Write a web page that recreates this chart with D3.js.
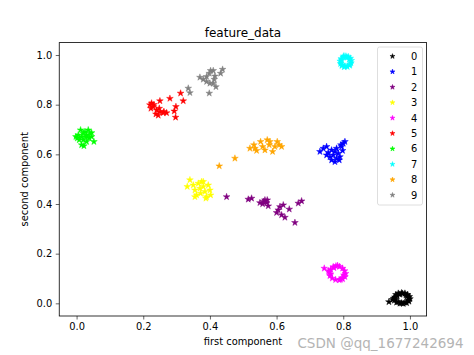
<!DOCTYPE html>
<html><head><meta charset="utf-8">
<script src="https://cdn.jsdelivr.net/npm/d3@7"></script>
<style>body{margin:0;background:#fff}svg{display:block}text{font-family:"DejaVu Sans",sans-serif}</style>
</head><body><svg id="c" width="474" height="355"></svg>
<script>
const labels = ["0","1","2","3","4","5","6","7","8","9"];
const colors = ["black","blue","purple","yellow","magenta","red","lime","cyan","orange","gray"];
const xTicks = [0.0,0.2,0.4,0.6,0.8,1.0];
const yTicks = [0.0,0.2,0.4,0.6,0.8,1.0];

const class0 = [[0.937,0.006],[0.955,0.025],[0.958,0.035],[0.965,0.040],[0.975,0.042],[0.985,0.040],[0.993,0.035],[0.998,0.027],[1.000,0.018],[0.997,0.008],[0.990,0.002],[0.980,-0.001],[0.970,0.000],[0.960,0.004],[0.953,0.012],[0.951,0.020],[0.962,0.030],[0.970,0.036],[0.988,0.033],[0.995,0.014],[0.985,0.004],[0.965,0.006],[0.956,0.016],[0.978,0.039],[0.996,0.022],[0.975,0.001],[0.948,0.015],[0.992,0.030]];
const class1 = [[0.730,0.611],[0.740,0.624],[0.750,0.631],[0.755,0.607],[0.760,0.590],[0.765,0.577],[0.770,0.597],[0.775,0.611],[0.780,0.624],[0.785,0.604],[0.790,0.590],[0.795,0.631],[0.800,0.644],[0.805,0.651],[0.798,0.615],[0.788,0.577],[0.775,0.570],[0.750,0.597],[0.765,0.617],[0.780,0.584],[0.793,0.638]];
const class2 = [[0.450,0.429],[0.515,0.419],[0.525,0.423],[0.550,0.405],[0.558,0.400],[0.565,0.416],[0.570,0.405],[0.575,0.392],[0.572,0.416],[0.560,0.410],[0.605,0.376],[0.610,0.389],[0.615,0.356],[0.620,0.396],[0.625,0.346],[0.600,0.365],[0.638,0.379],[0.665,0.403],[0.675,0.412],[0.655,0.325]];
const class3 = [[0.332,0.470],[0.340,0.497],[0.350,0.476],[0.355,0.456],[0.360,0.436],[0.365,0.483],[0.370,0.463],[0.375,0.490],[0.380,0.470],[0.385,0.450],[0.390,0.429],[0.395,0.476],[0.400,0.456],[0.402,0.436],[0.388,0.423],[0.355,0.429],[0.372,0.443],[0.380,0.490]];
const class4 = [[0.743,0.141],[0.770,0.147],[0.778,0.150],[0.789,0.148],[0.798,0.141],[0.804,0.131],[0.807,0.120],[0.805,0.107],[0.798,0.098],[0.788,0.094],[0.777,0.095],[0.767,0.101],[0.760,0.111],[0.758,0.124],[0.762,0.136],[0.772,0.143],[0.796,0.102],[0.802,0.114],[0.762,0.118],[0.783,0.152],[0.792,0.096],[0.756,0.131]];
const class5 = [[0.220,0.799],[0.225,0.806],[0.230,0.792],[0.240,0.778],[0.238,0.762],[0.250,0.815],[0.250,0.771],[0.260,0.767],[0.270,0.767],[0.280,0.825],[0.293,0.774],[0.298,0.792],[0.297,0.749],[0.312,0.846],[0.320,0.815],[0.248,0.785],[0.223,0.785],[0.232,0.800],[0.262,0.772],[0.245,0.757]];
const class6 = [[-0.002,0.671],[0.005,0.678],[0.012,0.698],[0.015,0.671],[0.020,0.685],[0.025,0.691],[0.030,0.678],[0.035,0.698],[0.040,0.685],[0.045,0.671],[0.052,0.651],[0.020,0.658],[0.015,0.638],[0.022,0.634],[0.030,0.651],[0.008,0.658],[0.038,0.665],[0.002,0.665],[0.028,0.669],[0.045,0.687]];
const class7 = [[0.808,0.995],[0.815,0.993],[0.821,0.987],[0.824,0.978],[0.823,0.968],[0.819,0.958],[0.812,0.953],[0.803,0.952],[0.796,0.957],[0.792,0.965],[0.791,0.975],[0.794,0.985],[0.800,0.992],[0.811,0.990],[0.820,0.962],[0.797,0.960],[0.805,0.955],[0.818,0.982],[0.795,0.980],[0.802,0.996]];
const class8 = [[0.428,0.553],[0.475,0.584],[0.520,0.624],[0.532,0.638],[0.540,0.615],[0.552,0.651],[0.558,0.631],[0.565,0.617],[0.572,0.658],[0.578,0.638],[0.588,0.611],[0.595,0.631],[0.602,0.651],[0.608,0.638],[0.615,0.631],[0.535,0.624],[0.580,0.651]];
const class9 = [[0.335,0.866],[0.340,0.848],[0.370,0.910],[0.380,0.902],[0.390,0.913],[0.398,0.926],[0.402,0.937],[0.410,0.937],[0.415,0.915],[0.400,0.886],[0.410,0.886],[0.418,0.872],[0.398,0.846],[0.432,0.926],[0.438,0.942],[0.413,0.902],[0.390,0.893]];
const classes = [class0,class1,class2,class3,class4,class5,class6,class7,class8,class9];

const svg = d3.select("#c");
const L = 59.25, R = 426.6, T = 42.6, B = 316;
const x = d3.scaleLinear().domain([-0.052, 1.05]).range([L, R]);
const y = d3.scaleLinear().domain([-0.051, 1.05]).range([B, T]);

const star = d3.symbol().type(d3.symbolStar).size(14);
const g = svg.append("g");
classes.forEach((pts, i) => {
  g.selectAll(null).data(pts).enter().append("path")
    .attr("d", star)
    .attr("transform", d => `translate(${x(d[0])},${y(d[1])})`)
    .attr("fill", colors[i]).attr("stroke", colors[i]).attr("stroke-width", 0.45);
});

const xa = svg.append("g").attr("transform", `translate(0,${B})`)
  .call(d3.axisBottom(x).tickValues(xTicks).tickFormat(d3.format(".1f")).tickSizeOuter(0).tickSize(3.5).tickPadding(3.5));
const ya = svg.append("g").attr("transform", `translate(${L},0)`)
  .call(d3.axisLeft(y).tickValues(yTicks).tickFormat(d3.format(".1f")).tickSizeOuter(0).tickSize(3.5).tickPadding(3.5));
[xa, ya].forEach(a => {
  a.select(".domain").remove();
  a.selectAll("line").attr("stroke", "#000").attr("stroke-width", 0.6);
  a.selectAll("text").attr("font-size", "9.9px").attr("fill", "#000").attr("font-family", "DejaVu Sans");
});
svg.append("rect").attr("x", L).attr("y", T).attr("width", R - L).attr("height", B - T)
  .attr("fill", "none").attr("stroke", "#000").attr("stroke-width", 0.8);

svg.append("text").attr("x", (L + R) / 2).attr("y", 36.5).attr("text-anchor", "middle")
  .attr("font-size", "12px").text("feature_data");
svg.append("text").attr("x", (L + R) / 2).attr("y", 345).attr("text-anchor", "middle")
  .attr("font-size", "9.9px").text("first component");
svg.append("text").attr("transform", `translate(28,${(T + B) / 2}) rotate(-90)`).attr("text-anchor", "middle")
  .attr("font-size", "9.9px").text("second component");

// legend
const lg = svg.append("g");
const lx = 377.5, ly = 47, lw = 45, lh = 158;
lg.append("rect").attr("x", lx).attr("y", ly).attr("width", lw).attr("height", lh).attr("rx", 2)
  .attr("fill", "white").attr("fill-opacity", 0.8).attr("stroke", "#d6d6d6").attr("stroke-width", 0.8);
const legStar = d3.symbol().type(d3.symbolStar).size(8);
labels.forEach((lab, i) => {
  const yy = 56.3 + i * 15.42;
  lg.append("path").attr("d", legStar).attr("transform", `translate(392.5,${yy})`)
    .attr("fill", colors[i]).attr("stroke", colors[i]).attr("stroke-width", 0.5);
  lg.append("text").attr("x", 411).attr("y", yy + 3.6).attr("font-size", "9.9px").text(lab);
});

svg.append("text").attr("x", 463.5).attr("y", 347.5).attr("text-anchor", "end")
  .attr("font-size", "13.5px").attr("fill", "#b4b4b4").attr("font-family", "Liberation Sans, Arial, sans-serif")
  .text("CSDN @qq_1677242694");
</script></body></html>
